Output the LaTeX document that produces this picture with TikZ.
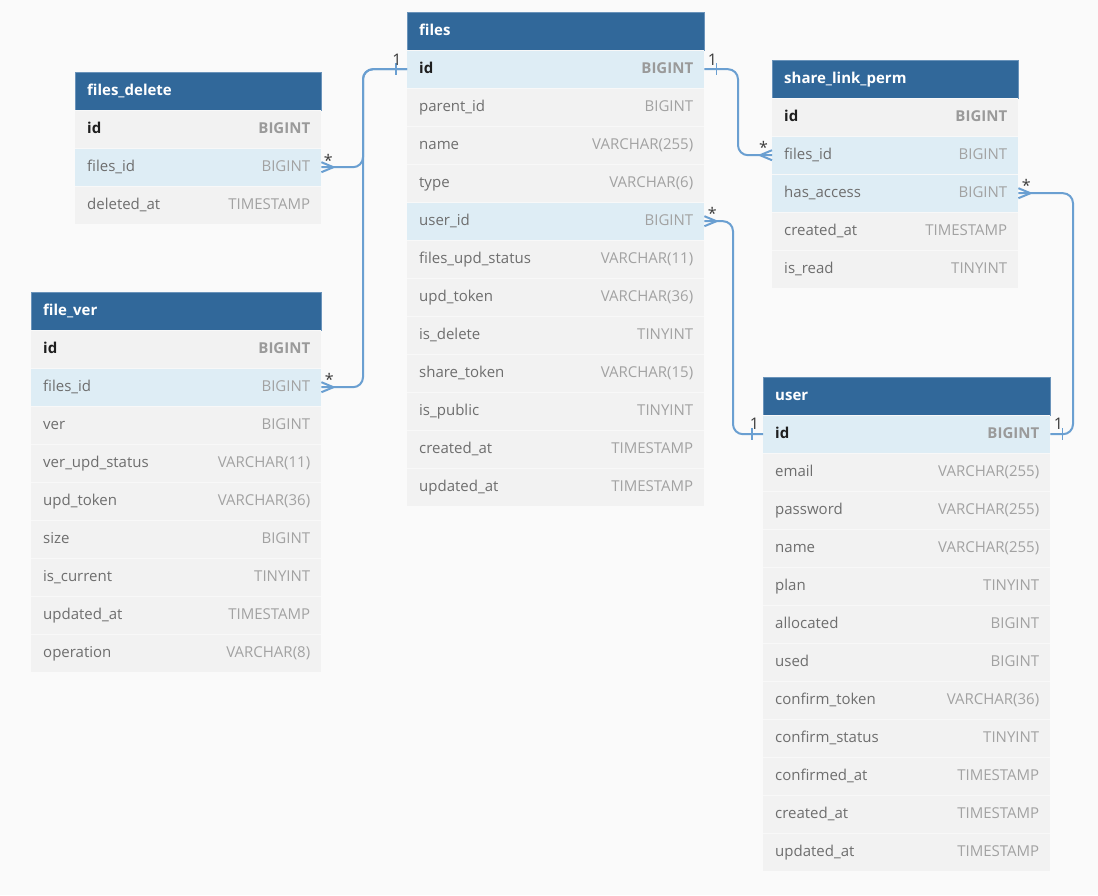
\documentclass[tikz,border=0pt]{standalone}
\usepackage{fontspec}
\setmainfont{Open Sans}
\newcounter{rowi}
\definecolor{bgc}{HTML}{FAFAFA}
\definecolor{headc}{HTML}{31689A}
\definecolor{headlinec}{HTML}{6A93BA}
\definecolor{rowpc}{HTML}{F2F2F2}
\definecolor{rowhc}{HTML}{DEEDF5}
\definecolor{sepc}{HTML}{F8F8F8}
\definecolor{fldc}{HTML}{6E6E6E}
\definecolor{typc}{HTML}{A2A2A2}
\definecolor{keyc}{HTML}{1E1E1E}
\definecolor{keytc}{HTML}{9A9A9A}
\definecolor{connc}{HTML}{6A9FD1}
\definecolor{lblc}{HTML}{3A3A3A}
\tikzset{
  headbox/.style={fill=headc, draw=headlinec, line width=0.8pt, minimum height=38pt, inner sep=0pt},
  headtxt/.style={text=white, font=\fontsize{15}{18}\selectfont\bfseries, inner sep=0pt},
  rowbox/.style={minimum height=38pt, inner sep=0pt, draw=none},
  rowplain/.style={fill=rowpc},
  rowhl/.style={fill=rowhc},
  sepline/.style={draw=sepc, line width=0.8pt},
  fldn/.style={text=fldc, font=\fontsize{15}{18}\selectfont, inner sep=0pt},
  fldk/.style={text=keyc, font=\fontsize{15}{18}\selectfont\bfseries, inner sep=0pt},
  typn/.style={text=typc, font=\fontsize{15}{18}\selectfont, inner sep=0pt},
  typk/.style={text=keytc, font=\fontsize{15}{18}\selectfont\bfseries, inner sep=0pt},
  connline/.style={draw=connc, line width=2pt, rounded corners=10pt},
  markline/.style={draw=connc, line width=2pt, line join=round},
  tickline/.style={draw=connc, line width=1.6pt},
  card/.style={text=lblc, font=\fontsize{16}{18}\selectfont, inner sep=0pt, anchor=base},
}
\newcommand\ertable[5]{%
  \def\curname{#1}\def\curx{#2}\def\cury{#3}\def\curw{#4}\setcounter{rowi}{0}%
  \node[headbox, minimum width=#4, anchor=north west] (#1) at (#2,#3) {};
  \node[headtxt, anchor=base west] (#1-title) at ([xshift=12,yshift=-4.5]#1.west) {#5};
}
\newcommand\errow[5]{%
  \pgfmathsetmacro\rowy{\cury+38+38*\value{rowi}}%
  \node[rowbox, #2, minimum width=\curw, anchor=north west] (\curname-#1) at (\curx,\rowy) {};
  \draw[sepline] (\curname-#1.north west) -- (\curname-#1.north east);
  \node[fld#3, anchor=base west] (\curname-#1-f) at ([xshift=12,yshift=-4]\curname-#1.west) {#4};
  \node[typ#3, anchor=base east] (\curname-#1-t) at ([xshift=-11,yshift=-4]\curname-#1.east) {#5};
  \stepcounter{rowi}%
}
\begin{document}
\begin{tikzpicture}[x=1pt,y=-1pt]
\fill[bgc] (0,0) rectangle (1098,895);

% files
\ertable{files}{407}{12}{297}{files}
\errow{id}{rowhl}{k}{id}{BIGINT}
\errow{pid}{rowplain}{n}{parent\_id}{BIGINT}
\errow{name}{rowplain}{n}{name}{VARCHAR(255)}
\errow{type}{rowplain}{n}{type}{VARCHAR(6)}
\errow{uid}{rowhl}{n}{user\_id}{BIGINT}
\errow{fus}{rowplain}{n}{files\_upd\_status}{VARCHAR(11)}
\errow{updt}{rowplain}{n}{upd\_token}{VARCHAR(36)}
\errow{isdel}{rowplain}{n}{is\_delete}{TINYINT}
\errow{sht}{rowplain}{n}{share\_token}{VARCHAR(15)}
\errow{ispub}{rowplain}{n}{is\_public}{TINYINT}
\errow{cat}{rowplain}{n}{created\_at}{TIMESTAMP}
\errow{uat}{rowplain}{n}{updated\_at}{TIMESTAMP}

% files_delete
\ertable{fdel}{75}{72}{246}{files\_delete}
\errow{id}{rowplain}{k}{id}{BIGINT}
\errow{fid}{rowhl}{n}{files\_id}{BIGINT}
\errow{dat}{rowplain}{n}{deleted\_at}{TIMESTAMP}

% file_ver
\ertable{fver}{31}{292}{290}{file\_ver}
\errow{id}{rowplain}{k}{id}{BIGINT}
\errow{fid}{rowhl}{n}{files\_id}{BIGINT}
\errow{ver}{rowplain}{n}{ver}{BIGINT}
\errow{vus}{rowplain}{n}{ver\_upd\_status}{VARCHAR(11)}
\errow{updt}{rowplain}{n}{upd\_token}{VARCHAR(36)}
\errow{size}{rowplain}{n}{size}{BIGINT}
\errow{iscur}{rowplain}{n}{is\_current}{TINYINT}
\errow{uat}{rowplain}{n}{updated\_at}{TIMESTAMP}
\errow{op}{rowplain}{n}{operation}{VARCHAR(8)}

% share_link_perm
\ertable{slp}{772}{60}{246}{share\_link\_perm}
\errow{id}{rowplain}{k}{id}{BIGINT}
\errow{fid}{rowhl}{n}{files\_id}{BIGINT}
\errow{acc}{rowhl}{n}{has\_access}{BIGINT}
\errow{cat}{rowplain}{n}{created\_at}{TIMESTAMP}
\errow{isr}{rowplain}{n}{is\_read}{TINYINT}

% user
\ertable{user}{763}{377}{287}{user}
\errow{id}{rowhl}{k}{id}{BIGINT}
\errow{email}{rowplain}{n}{email}{VARCHAR(255)}
\errow{pw}{rowplain}{n}{password}{VARCHAR(255)}
\errow{name}{rowplain}{n}{name}{VARCHAR(255)}
\errow{plan}{rowplain}{n}{plan}{TINYINT}
\errow{alloc}{rowplain}{n}{allocated}{BIGINT}
\errow{used}{rowplain}{n}{used}{BIGINT}
\errow{ctok}{rowplain}{n}{confirm\_token}{VARCHAR(36)}
\errow{cst}{rowplain}{n}{confirm\_status}{TINYINT}
\errow{cfat}{rowplain}{n}{confirmed\_at}{TIMESTAMP}
\errow{cat}{rowplain}{n}{created\_at}{TIMESTAMP}
\errow{uat}{rowplain}{n}{updated\_at}{TIMESTAMP}

% routing columns
\coordinate (cx1) at (363,0);
\coordinate (cx2) at (738,0);
\coordinate (cx3) at (733,0);
\coordinate (cx4) at (1073,0);

% connectors
\draw[connline] (fdel-fid.east) -- (fdel-fid.east -| cx1) |- (files-id.west);
\draw[connline] (fver-fid.east) -- (fver-fid.east -| cx1) |- (files-id.west);
\draw[connline] (files-id.east) -- (files-id.east -| cx2) |- (slp-fid.west);
\draw[connline] (files-uid.east) -- (files-uid.east -| cx3) |- (user-id.west);
\draw[connline] (slp-acc.east) -- (slp-acc.east -| cx4) |- (user-id.east);

% many ends (crow's feet)
\draw[markline] ([yshift=5]fdel-fid.east) -- ([xshift=12]fdel-fid.east) -- ([yshift=-5]fdel-fid.east);
\draw[markline] ([yshift=5]fver-fid.east) -- ([xshift=12]fver-fid.east) -- ([yshift=-5]fver-fid.east);
\draw[markline] ([yshift=5]slp-fid.west) -- ([xshift=-12]slp-fid.west) -- ([yshift=-5]slp-fid.west);
\draw[markline] ([yshift=5]files-uid.east) -- ([xshift=12]files-uid.east) -- ([yshift=-5]files-uid.east);
\draw[markline] ([yshift=5]slp-acc.east) -- ([xshift=12]slp-acc.east) -- ([yshift=-5]slp-acc.east);

% one ends (ticks)
\draw[tickline] ([xshift=-11,yshift=6]files-id.west) -- ([xshift=-11,yshift=-6]files-id.west);
\draw[tickline] ([xshift=12,yshift=6]files-id.east) -- ([xshift=12,yshift=-6]files-id.east);
\draw[tickline] ([xshift=-11,yshift=6]user-id.west) -- ([xshift=-11,yshift=-6]user-id.west);
\draw[tickline] ([xshift=12,yshift=6]user-id.east) -- ([xshift=12,yshift=-6]user-id.east);

% cardinality labels
\node[card] (l1) at ([xshift=-10,yshift=3.5]files-id.west) {1};
\node[card] (l2) at ([xshift=7,yshift=0.5]fdel-fid.east) {*};
\node[card] (l3) at ([xshift=8,yshift=1.5]fver-fid.east) {*};
\node[card] (l4) at ([xshift=8,yshift=3.5]files-id.east) {1};
\node[card] (l5) at ([xshift=-8.5,yshift=1.5]slp-fid.west) {*};
\node[card] (l6) at ([xshift=8,yshift=1.5]files-uid.east) {*};
\node[card] (l7) at ([xshift=-8.5,yshift=4.5]user-id.west) {1};
\node[card] (l8) at ([xshift=8,yshift=1.5]slp-acc.east) {*};
\node[card] (l9) at ([xshift=8,yshift=4.5]user-id.east) {1};
\end{tikzpicture}
\end{document}
